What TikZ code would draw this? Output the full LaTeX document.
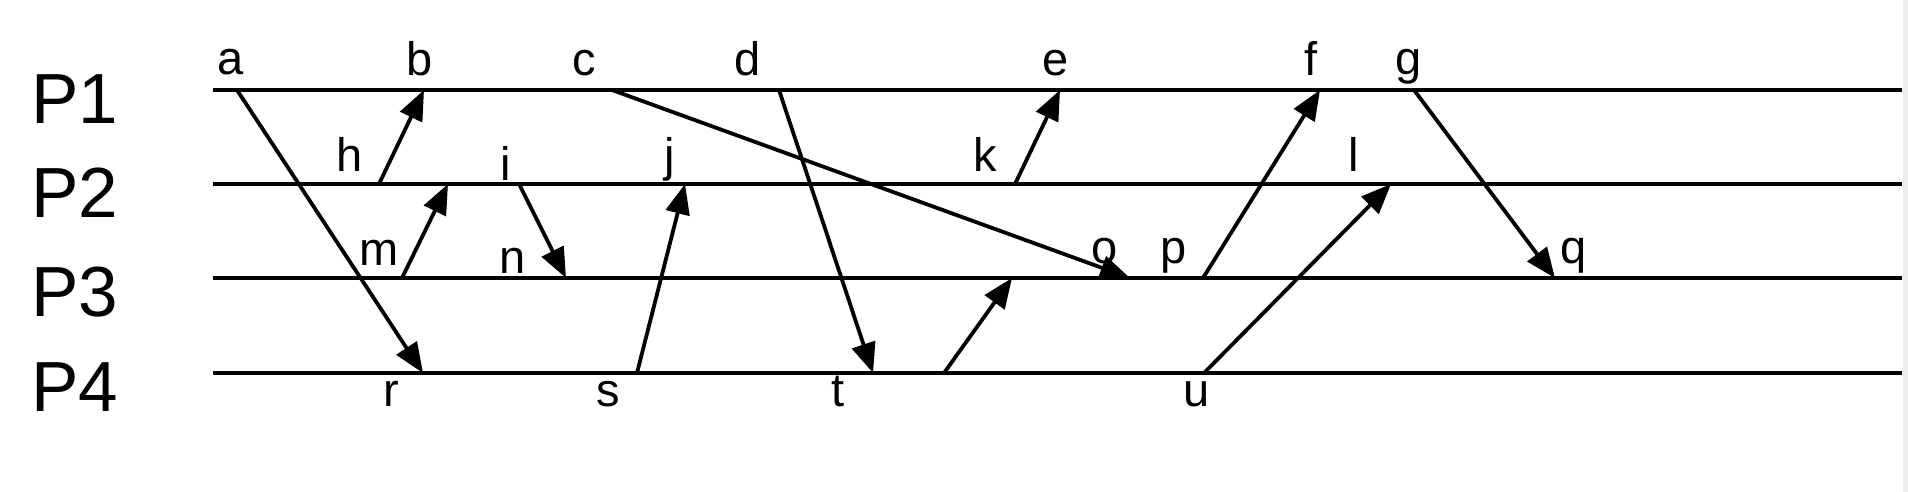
\documentclass[tikz,border=0pt]{standalone}
\usepackage{fontspec}
\setmainfont{Liberation Sans}
\usetikzlibrary{arrows.meta}
\begin{document}
\begin{tikzpicture}[x=1pt,y=-1pt,
  procline/.style={line width=4.3pt},
  msg/.style={line width=3.8pt,-{Triangle[length=30pt,width=24pt]}},
  evlabel/.style={anchor=base,inner sep=0pt,font=\fontsize{47}{47}\selectfont},
  plabel/.style={anchor=base west,inner sep=0pt,font=\fontsize{71}{71}\selectfont}]
\useasboundingbox (0,0) rectangle (1908,492);
\fill[black!7] (1903,0) rectangle (1908,492);
% process lines
\coordinate (s1) at (213,90);  \coordinate (e1) at (1902,90);
\coordinate (s2) at (213,184); \coordinate (e2) at (1902,184);
\coordinate (s3) at (213,278); \coordinate (e3) at (1902,278);
\coordinate (s4) at (213,373); \coordinate (e4) at (1902,373);
\draw[procline] (s1) -- (e1);
\draw[procline] (s2) -- (e2);
\draw[procline] (s3) -- (e3);
\draw[procline] (s4) -- (e4);
% process labels
\node[plabel] (P1) at (31,124) {P1};
\node[plabel] (P2) at (31,217) {P2};
\node[plabel] (P3) at (31,316) {P3};
\node[plabel] (P4) at (31,411) {P4};
% event labels
\node[evlabel] (la) at (231,75) {a};
\node[evlabel] (lb) at (420,76) {b};
\node[evlabel] (lc) at (584,76) {c};
\node[evlabel] (ld) at (748,76) {d};
\node[evlabel] (le) at (1056,76) {e};
\node[evlabel] (lf) at (1311,76) {f};
\node[evlabel] (lg) at (1409,75) {g};
\node[evlabel] (lh) at (350,171) {h};
\node[evlabel] (li) at (506,180) {i};
\node[evlabel] (lj) at (670,171) {j};
\node[evlabel] (lk) at (985,171) {k};
\node[evlabel] (ll) at (1354,171) {l};
\node[evlabel] (lm) at (379,265) {m};
\node[evlabel] (ln) at (513,273) {n};
\node[evlabel] (lo) at (1105,263) {o};
\node[evlabel] (lp) at (1174,263) {p};
\node[evlabel] (lq) at (1574,263) {q};
\node[evlabel] (lr) at (391,406) {r};
\node[evlabel] (ls) at (608,406) {s};
\node[evlabel] (lt) at (838,406) {t};
\node[evlabel] (lu) at (1197,406) {u};
% event points
\coordinate (a) at (237,90);
\coordinate (b) at (424,90);
\coordinate (c) at (612,90);
\coordinate (d) at (779,90);
\coordinate (e) at (1060,90);
\coordinate (f) at (1320,90);
\coordinate (g) at (1414,90);
\coordinate (h) at (379,184);
\coordinate (i) at (519,184);
\coordinate (j) at (685,184);
\coordinate (k) at (1015,184);
\coordinate (l) at (1391,184);
\coordinate (m) at (402,278);
\coordinate (m2) at (448,184);
\coordinate (n) at (566,278);
\coordinate (o) at (1130,278);
\coordinate (p) at (1203,278);
\coordinate (q) at (1555,278);
\coordinate (x3) at (1012,278);
\coordinate (r) at (423,373);
\coordinate (s) at (637,373);
\coordinate (t) at (873,373);
\coordinate (x4) at (944,373);
\coordinate (u) at (1204,373);
% messages
\draw[msg] (a) -- (r);
\draw[msg] (h) -- (b);
\draw[msg] (m) -- (m2);
\draw[msg] (i) -- (n);
\draw[msg] (s) -- (j);
\draw[msg] (c) -- (o);
\draw[msg] (d) -- (t);
\draw[msg] (k) -- (e);
\draw[msg] (x4) -- (x3);
\draw[msg] (p) -- (f);
\draw[msg] (u) -- (l);
\draw[msg] (g) -- (q);
\end{tikzpicture}
\end{document}
